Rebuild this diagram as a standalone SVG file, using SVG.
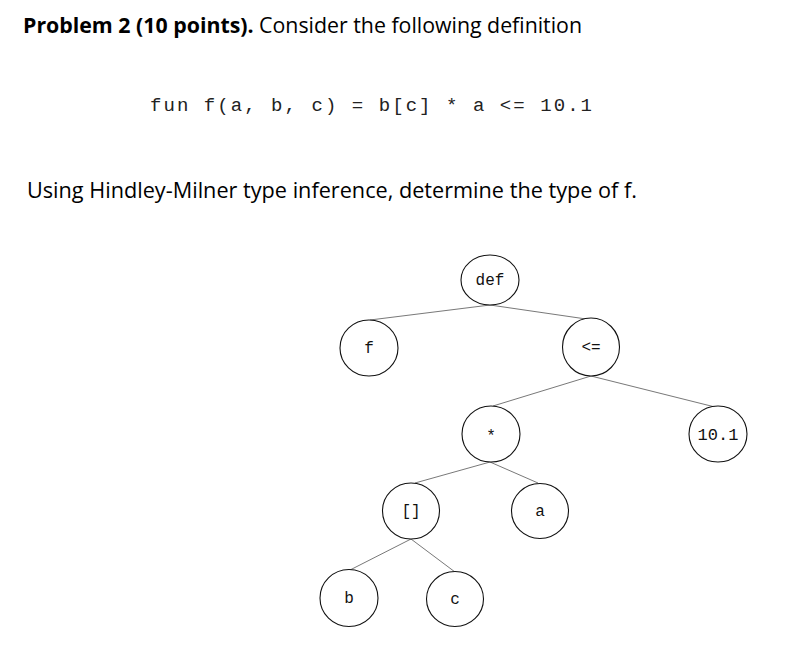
<svg xmlns="http://www.w3.org/2000/svg" width="793" height="670" viewBox="0 0 793 670">
<style>
.t{font-family:"Open Sans","Liberation Sans",sans-serif;font-size:21px;fill:#000}
.code{font-family:"Liberation Mono","Courier New",monospace;font-size:19px;fill:#222}
.n ellipse{fill:#fff;stroke:#111;stroke-width:1.1}
.n text{font-family:"Liberation Mono","Courier New",monospace;font-size:16px;fill:#111;text-anchor:middle}
#edges line{stroke:#555;stroke-width:0.8}
</style>
<rect width="793" height="670" fill="#fff"/>
<text class="t" x="23" y="33" textLength="559" lengthAdjust="spacingAndGlyphs"><tspan font-weight="bold">Problem 2 (10 points).</tspan> Consider the following definition</text>
<text class="code" x="150" y="111" textLength="442" lengthAdjust="spacing">fun f(a, b, c) = b[c] * a &lt;= 10.1</text>
<text class="t" x="27" y="198" textLength="610" lengthAdjust="spacingAndGlyphs">Using Hindley-Milner type inference, determine the type of f.</text>
<g id="edges">
<line x1="490" y1="305" x2="370" y2="320"/>
<line x1="490" y1="305" x2="593" y2="320"/>
<line x1="591" y1="376" x2="493" y2="406"/>
<line x1="591" y1="376" x2="715" y2="407"/>
<line x1="490" y1="462" x2="415" y2="483"/>
<line x1="490" y1="462" x2="538" y2="483"/>
<line x1="411" y1="539" x2="350" y2="570"/>
<line x1="411" y1="539" x2="455" y2="572"/>
</g>
<g id="n-def" class="n"><ellipse cx="490" cy="280" rx="29" ry="25"/><text x="490" y="285">def</text></g>
<g id="n-f" class="n"><ellipse cx="369" cy="348" rx="29" ry="28"/><text x="369" y="353">f</text></g>
<g id="n-le" class="n"><ellipse cx="591" cy="347" rx="28.5" ry="29"/><text x="591" y="352">&lt;=</text></g>
<g id="n-mul" class="n"><ellipse cx="491" cy="434" rx="29" ry="28"/><text x="491" y="441">*</text></g>
<g id="n-101" class="n"><ellipse cx="718" cy="434" rx="29" ry="28"/><text x="718" y="440" style="font-size:17px">10.1</text></g>
<g id="n-idx" class="n"><ellipse cx="411" cy="511" rx="28.5" ry="28"/><text x="411" y="516">[]</text></g>
<g id="n-a" class="n"><ellipse cx="540" cy="511" rx="28.5" ry="27.5"/><text x="540" y="516">a</text></g>
<g id="n-b" class="n"><ellipse cx="349" cy="598" rx="29" ry="28.5"/><text x="349" y="603">b</text></g>
<g id="n-c" class="n"><ellipse cx="455" cy="599" rx="28.5" ry="27.5"/><text x="455" y="604">c</text></g>
</svg>
